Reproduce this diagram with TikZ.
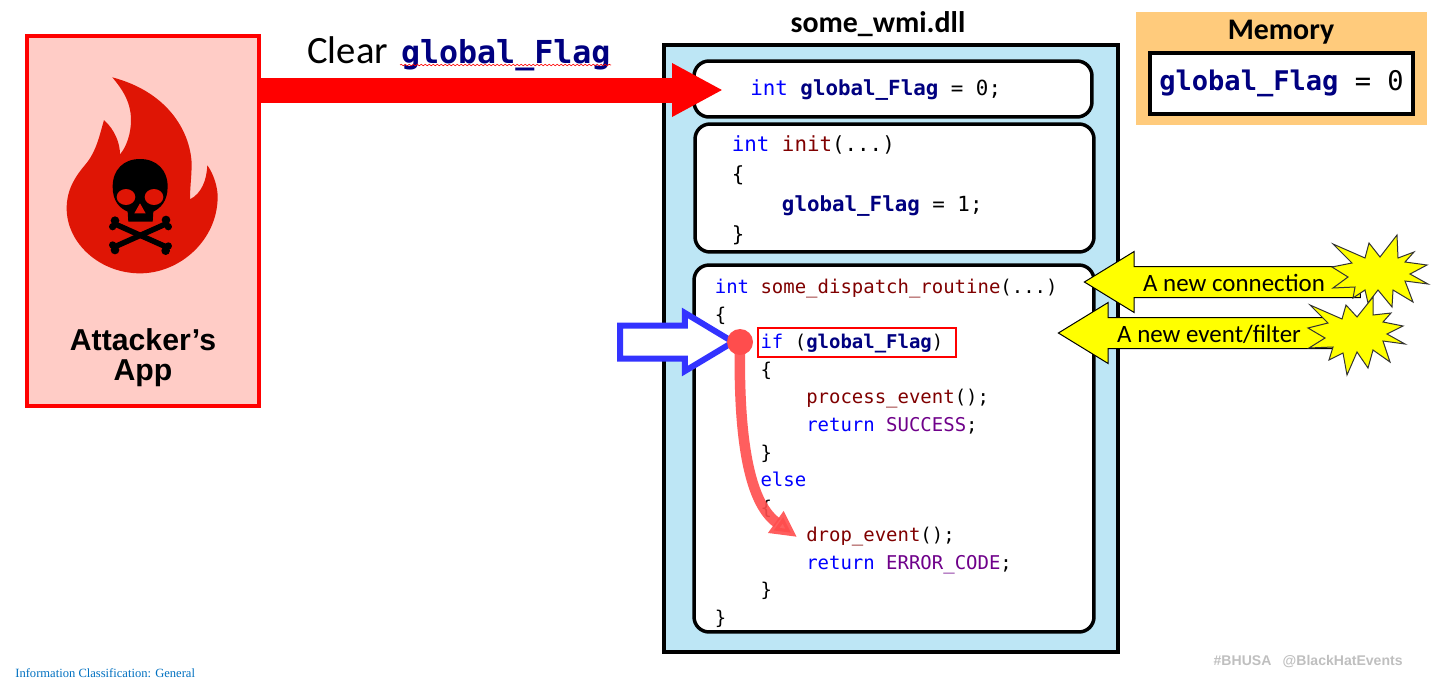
\documentclass[tikz,border=0pt]{standalone}
\usepackage[HTML]{xcolor}
\usepackage{fontspec}
\setmainfont{Carlito}
\newfontfamily\codefont{DejaVu Sans Mono}
\newfontfamily\arialfont{Liberation Sans}
\newfontfamily\timesfont{Liberation Serif}
\usepackage{tikz}
\usetikzlibrary{positioning, arrows, arrows.meta, shapes.arrows, decorations.pathmorphing}

\definecolor{kwblue}{HTML}{0000FF}
\definecolor{fnred}{HTML}{800000}
\definecolor{flagnavy}{HTML}{000080}
\definecolor{constpurple}{HTML}{6F008A}
\definecolor{appfill}{HTML}{FFCCC6}
\definecolor{flamered}{HTML}{DF1505}
\definecolor{dllblue}{HTML}{BDE6F5}
\definecolor{memorange}{HTML}{FFCB7C}
\definecolor{entryblue}{HTML}{3333FF}
\definecolor{failred}{HTML}{FF4D4D}
\definecolor{footblue}{HTML}{0070C0}
\newcommand{\kw}[1]{\textcolor{kwblue}{#1}}
\newcommand{\fn}[1]{\textcolor{fnred}{#1}}
\newcommand{\cn}[1]{\textcolor{constpurple}{#1}}
\newcommand{\gflag}{\textcolor{flagnavy}{\bfseries global\_Flag}}

\tikzset{
  appbox/.style={draw=red, fill=appfill, line width=0.08cm, inner sep=0pt, minimum width=4.64cm, minimum height=7.4cm},
  codebox/.style={draw=black, fill=white, line width=0.07cm, rounded corners=0.3cm, inner sep=0pt},
  codetext/.style={inner sep=0pt, anchor=north west, align=left},
  yellowarrow/.style={single arrow, shape border rotate=180, draw=black, fill=yellow, line width=0.02cm, inner sep=0pt, outer sep=0pt,
    minimum height=5.52cm, single arrow head extend=0.3cm, single arrow tip angle=63},
  burstline/.style={draw=black!80, fill=yellow, line width=0.02cm},
  arrowtext/.style={inner sep=0pt, font=\fontsize{14.2}{16}\selectfont},
}

\begin{document}
\begin{tikzpicture}[x=0.02cm, y=-0.02cm]
\useasboundingbox (0,0) rectangle (1437,680);

% attacker box
\node[appbox] (app) at (143,221) {};
\node[inner sep=0pt, align=center, font=\arialfont\bfseries\fontsize{17.2}{17.2}\selectfont] (applabel) at (143,358) {Attacker’s\\App};

% flame and skull
\begin{scope}[shift={(0,20)}, scale=1/3]
\fill[flamered] (337,172) .. controls (500,215) and (570,330) .. (575,430)
  .. controls (575,470) and (570,500) .. (570,538) .. controls (605,520) and (620,480) .. (622,436)
  .. controls (640,460) and (653,500) .. (653,530) .. controls (653,660) and (540,760) .. (420,760)
  .. controls (300,760) and (200,670) .. (200,565) .. controls (200,510) and (225,470) .. (255,435)
  .. controls (290,395) and (300,340) .. (312,300) .. controls (345,330) and (360,370) .. (360,403)
  .. controls (380,380) and (393,340) .. (393,300) .. controls (393,240) and (360,200) .. (337,172) -- cycle;
\fill[black] (420,417) .. controls (470,417) and (503,450) .. (503,500) .. controls (503,545) and (480,565) .. (460,575)
  -- (458,605) -- (385,605) -- (383,575) .. controls (360,565) and (338,545) .. (338,500)
  .. controls (338,450) and (370,417) .. (420,417) -- cycle;
\fill[flamered] (378,531) ellipse [x radius=28, y radius=24];
\fill[flamered] (462,531) ellipse [x radius=28, y radius=24];
\fill[flamered] (420,550) -- (437,580) -- (403,580) -- cycle;
\draw[black, line width=0.11cm] (345,612) -- (497,680);
\draw[black, line width=0.11cm] (497,612) -- (345,680);
\fill[black] (345,602) circle (13) (338,620) circle (11) (498,600) circle (13) (505,620) circle (11);
\fill[black] (338,675) circle (11) (345,690) circle (13) (505,678) circle (11) (497,692) circle (13);
\end{scope}

% dll box
\node[font=\bfseries\fontsize{17}{18}\selectfont, inner sep=0pt] (dllname) at (878,24) {some\_wmi.dll};
\node[draw=black, fill=dllblue, line width=0.08cm, inner sep=0pt, minimum width=9.08cm, minimum height=12.14cm] (dll) at (891,348.5) {};
\node[codebox, minimum width=7.96cm, minimum height=1.12cm] (flagbox) at (893,89) {};
\node[codebox, minimum width=7.98cm, minimum height=2.56cm] (initbox) at (894.5,188) {};
\node[codebox, minimum width=8cm, minimum height=7.34cm] (routinebox) at (894,448.5) {};

% code
\node[codetext, anchor=west, font=\codefont\fontsize{11.85}{17}\selectfont] (flagcode) at (750,90) {\kw{int} \gflag{} = 0;};
\node[codetext, font=\codefont\fontsize{11.85}{17.1}\selectfont] (initcode) at (731.5,135) {\kw{int} \fn{init}(...)\\
\{\\
~~~~\gflag{} = 1;\\
\}};
\node[codetext, font=\codefont\fontsize{10.8}{15.68}\selectfont] (routinecode) at (714.5,279) {%
\kw{int} \fn{some\_dispatch\_routine}(...)\\
\{\\
~~~~\kw{if} (\gflag)\\
~~~~\{\\
~~~~~~~~\fn{process\_event}();\\
~~~~~~~~\kw{return} \cn{SUCCESS};\\
~~~~\}\\
~~~~\kw{else}\\
~~~~\{\\
~~~~~~~~\fn{drop\_event}();\\
~~~~~~~~\kw{return} \cn{ERROR\_CODE};\\
~~~~\}\\
\}};
\node[draw=red, line width=0.04cm, inner sep=0pt, minimum width=3.96cm, minimum height=0.58cm] (ifbox) at (857,342) {};

% memory box
\node[fill=memorange, inner sep=0pt, minimum width=5.82cm, minimum height=2.26cm] (memory) at (1281.5,68.5) {};
\node[font=\bfseries\fontsize{17}{18}\selectfont, inner sep=0pt] (memlabel) at (1281,32) {Memory};
\node[draw=black, fill=white, line width=0.07cm, inner sep=0pt, minimum width=5.26cm, minimum height=1.22cm, font=\codefont\fontsize{15.4}{18}\selectfont] (memvalue) at (1281.5,83.5) {\gflag{} = 0};

% clear arrow
\coordinate (cleartip) at (723,90);
\draw[red, line width=0.5cm, -{Triangle[length=1.02cm, width=1cm]}] (app.east |- cleartip) -- (cleartip);
\node[anchor=west, inner sep=0pt, font=\fontsize{22}{24}\selectfont] (clearlabel) at (307,54) {Clear\hspace{0.11em} {\codefont\fontsize{18}{24}\selectfont\gflag}};
\draw[red, line width=0.012cm, decorate, decoration={snake, amplitude=0.015cm, segment length=0.08cm}] (400,65) -- (611,65);

% entry arrow and failing path
\node[single arrow, draw=entryblue, fill=white, line width=0.12cm, inner sep=0pt, outer sep=0pt, minimum height=2.26cm,
  single arrow head extend=0.25cm, single arrow tip angle=62] (entryarrow) at (663,342) {\rule{0pt}{0.54cm}};
\node[circle, fill=failred, inner sep=0pt, minimum size=0.52cm] (branchdot) at (740,342) {};
\coordinate (droptip) at (797,537);
\draw[failred, opacity=0.9, line width=0.21cm, -{Triangle[length=0.52cm, width=0.5cm]}] (branchdot.center) .. controls (738,450) and (752,505) .. (droptip);

% new connection
\node[yellowarrow] (connarrow) at (1235,282) {\rule{0pt}{0.6cm}};
\draw[burstline] (1333,244) -- (1365,258) -- (1369,243) -- (1380,257) -- (1397,235) -- (1398,258) -- (1414,252) -- (1405,262) -- (1427,265)
  -- (1410,274) -- (1428,284) -- (1405,281) -- (1413,302) -- (1393,290) -- (1392,307) -- (1378,290) -- (1368,303) -- (1365,290)
  -- (1353,298) -- (1355,287) -- (1333,288) -- (1348,277) -- (1332,267) -- (1352,263) -- cycle;
\node[arrowtext] (connlabel) at (1234,283) {A new connection};

% new event or filter
\node[yellowarrow, minimum height=5.5cm] (eventarrow) at (1208.5,333) {\rule{0pt}{0.6cm}};
\draw[burstline] (1310,305) -- (1342,319) -- (1346,305) -- (1357,317) -- (1373,297) -- (1373,315) -- (1391,313) -- (1383,322) -- (1403,326)
  -- (1387,334) -- (1405,344) -- (1383,341) -- (1390,362) -- (1373,350) -- (1368,368) -- (1357,352) -- (1347,375) -- (1343,353)
  -- (1329,360) -- (1333,347) -- (1309,348) -- (1325,338) -- (1308,328) -- (1328,323) -- cycle;
\node[arrowtext] (eventlabel) at (1209,334) {A new event/filter};

% footer
\node[anchor=west, inner sep=0pt, text=footblue, font=\timesfont\fontsize{7.15}{8}\selectfont] (classlabel) at (15,673) {Information Classification: General};
\node[anchor=east, inner sep=0pt, text=black!25, font=\arialfont\bfseries\fontsize{8}{9}\selectfont] (halllabel) at (1403,662) {\#BHUSA\hspace{0.8em}@BlackHatEvents};
\end{tikzpicture}
\end{document}
